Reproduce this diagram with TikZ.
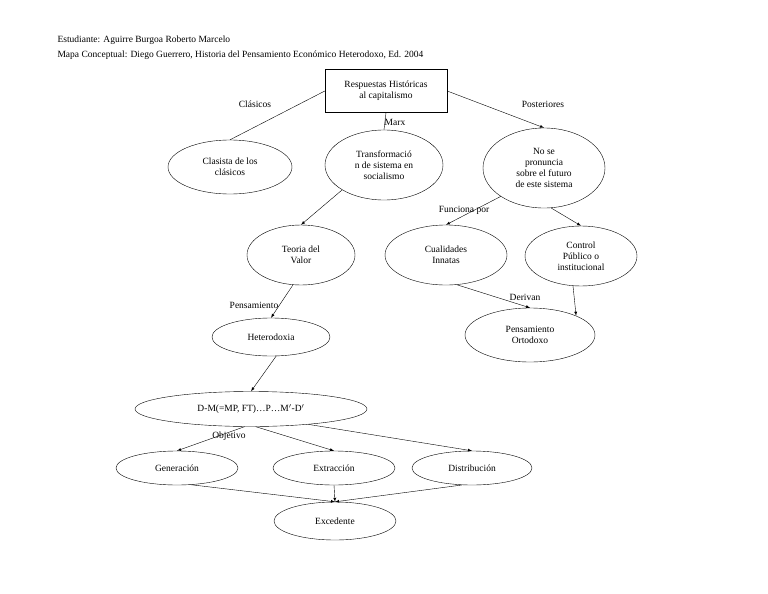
\documentclass[tikz,border=0pt]{standalone}
\usepackage{fontspec}
\setmainfont{Liberation Serif}
\usetikzlibrary{shapes.geometric}
\begin{document}
\begin{tikzpicture}[x=1pt,y=-1pt,font=\fontsize{9.5}{11}\selectfont,
  ell/.style={draw,ellipse,minimum width=#1,align=center,inner sep=0pt},
  arr/.style={-latex,thin},
  lab/.style={inner sep=1pt}]
\useasboundingbox (0,0) rectangle (768,594);
\node[anchor=west,align=left] (t1) at (54,40) {Estudiante: Aguirre Burgoa Roberto Marcelo};
\node[anchor=west,align=left] (t2) at (54,55) {Mapa Conceptual: Diego Guerrero, Historia del Pensamiento Económico Heterodoxo, Ed. 2004};
\node[draw,minimum width=122,minimum height=43,align=center] (root) at (386,91) {Respuestas Históricas\\al capitalismo};
\node[ell=124,minimum height=54] (cla) at (230,167) {Clasista de los\\clásicos};
\node[ell=118,minimum height=70] (tra) at (384,165) {Transformació\\n de sistema en\\socialismo};
\node[ell=122,minimum height=80] (nos) at (544,168) {No se\\pronuncia\\sobre el futuro\\de este sistema};
\node[ell=108,minimum height=60] (teo) at (301,255) {Teoria del\\Valor};
\node[ell=122,minimum height=60] (cua) at (446,255) {Cualidades\\Innatas};
\node[ell=112,minimum height=60] (con) at (581,256) {Control\\Público o\\institucional};
\node[ell=130,minimum height=54] (ort) at (530,335) {Pensamiento\\Ortodoxo};
\node[ell=118,minimum height=38] (het) at (271,337) {Heterodoxia};
\node[ell=232,minimum height=35] (dm) at (251,409) {D-M(=MP, FT)\dots P\dots M$'$-D$'$};
\node[ell=122,minimum height=34] (gen) at (177,468) {Generación};
\node[ell=122,minimum height=34] (ext) at (334,468) {Extracción};
\node[ell=120,minimum height=34] (dis) at (472,468) {Distribución};
\node[ell=122,minimum height=38] (exc) at (335,521) {Excedente};
\draw (root.west) -- (cla.north);
\draw (root.south) -- (tra.north);
\draw[arr] (root.east) -- (nos.north);
\node[lab] (l1) at (255,104) {Clásicos};
\node[lab] (l2) at (395,122) {Marx};
\node[lab] (l3) at (543,104) {Posteriores};
\draw[arr] (tra.south west) -- (teo.north);
\draw[arr] (nos.south west) -- (cua.north);
\draw[arr] (nos.-80) -- (con.north);
\node[lab] (l4) at (464,210) {Funciona por};
\draw[arr] (cua.south) ++(5,0) coordinate (cs) (cua.-70) -- (ort.north);
\draw[arr] (con.-105) -- (ort.north east);
\node[lab] (l5) at (525,297) {Derivan};
\draw[arr] (teo.-105) -- (het.north);
\node[lab] (l6) at (254,305) {Pensamiento};
\draw[arr] (het.-75) -- (dm.north);
\draw[arr] (dm.-110) -- (gen.north);
\node[lab] (l7) at (229,436) {Objetivo};
\draw[arr] (dm.-75) -- (ext.north);
\draw[arr] (dm.-15) -- (dis.north);
\draw[arr] (gen.-50) -- (exc.north);
\draw[arr] (ext.south) -- (exc.north);
\draw[arr] (dis.-120) -- (exc.north);
\end{tikzpicture}
\end{document}
